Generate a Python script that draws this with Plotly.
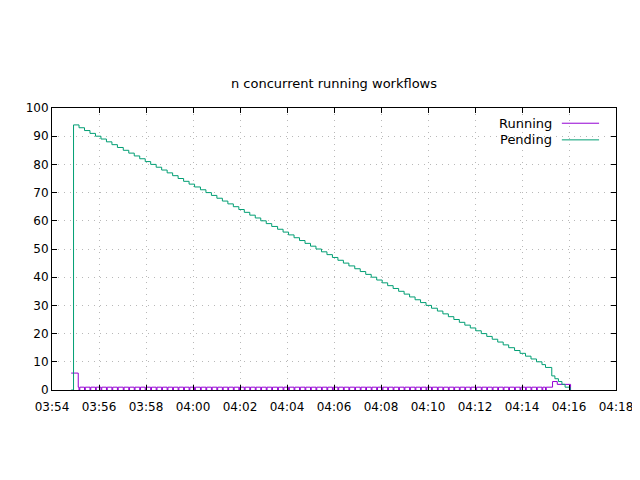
import pandas as pd
import plotly.graph_objects as go

day = "2024-01-01 "

# times when a pending workflow is picked up (pending drops, running blips to 0)
step_times = [
    "03:55:09", "03:55:23", "03:55:37", "03:55:51", "03:56:05", "03:56:19", "03:56:33", "03:56:47",
    "03:57:02", "03:57:16", "03:57:30", "03:57:44", "03:57:58", "03:58:12", "03:58:26", "03:58:40",
    "03:58:54", "03:59:08", "03:59:22", "03:59:36", "03:59:50", "04:00:04", "04:00:19", "04:00:33",
    "04:00:47", "04:01:01", "04:01:15", "04:01:29", "04:01:43", "04:01:57", "04:02:11", "04:02:25",
    "04:02:39", "04:02:53", "04:03:07", "04:03:21", "04:03:36", "04:03:50", "04:04:04", "04:04:18",
    "04:04:32", "04:04:46", "04:05:00", "04:05:14", "04:05:28", "04:05:42", "04:05:56", "04:06:10",
    "04:06:24", "04:06:38", "04:06:53", "04:07:07", "04:07:21", "04:07:35", "04:07:49", "04:08:03",
    "04:08:17", "04:08:31", "04:08:45", "04:08:59", "04:09:13", "04:09:27", "04:09:41", "04:09:55",
    "04:10:09", "04:10:24", "04:10:38", "04:10:52", "04:11:06", "04:11:20", "04:11:34", "04:11:48",
    "04:12:02", "04:12:16", "04:12:30", "04:12:44", "04:12:58", "04:13:12", "04:13:26", "04:13:41",
    "04:13:55", "04:14:09", "04:14:23", "04:14:37", "04:14:51", "04:15:00",
]
tail_times = ["04:15:16", "04:15:24", "04:15:33", "04:15:42", "04:15:50", "04:16:03"]

pending_times = ["03:54:49", "03:54:55"] + step_times + tail_times
pending_counts = [
    0, 94,
    93, 92, 91, 90, 89, 88, 87, 86, 85, 84, 83, 82, 81, 80, 79, 78,
    77, 76, 75, 74, 73, 72, 71, 70, 69, 68, 67, 66, 65, 64, 63, 62,
    61, 60, 59, 58, 57, 56, 55, 54, 53, 52, 51, 50, 49, 48, 47, 46,
    45, 44, 43, 42, 41, 40, 39, 38, 37, 36, 35, 34, 33, 32, 31, 30,
    29, 28, 27, 26, 25, 24, 23, 22, 21, 20, 19, 18, 17, 16, 15, 14,
    13, 12, 11, 10, 9, 8,
    5, 4, 3, 2, 1, 0,
]

running_times = ["03:54:49", "03:55:07", "04:15:18", "04:15:30", "04:16:04"]
running_counts = [6, 1, 3, 2, 0]

# running series: level changes plus the short blips to zero between workflows
blip = pd.Timedelta(seconds=2)
events = [(pd.Timestamp(day + t), c) for t, c in zip(running_times, running_counts)]
for t in step_times:
    ts = pd.Timestamp(day + t)
    events += [(ts, 0), (ts + blip, 1)]
events.sort(key=lambda e: e[0])
run_x = [e[0] for e in events]
run_y = [e[1] for e in events]

fig = go.Figure()
fig.add_trace(go.Scatter(x=run_x, y=run_y, mode="lines", line_shape="hv",
                         line=dict(color="#9400d3", width=1, simplify=False), name="Running"))
fig.add_trace(go.Scatter(x=[day + t for t in pending_times], y=pending_counts, mode="lines",
                         line_shape="hv", line=dict(color="#009e73", width=1, simplify=False),
                         name="Pending"))

font = dict(family="DejaVu Sans", size=12, color="black")
axis = dict(showline=True, linecolor="black", linewidth=1, mirror="ticks", ticks="inside",
            ticklen=5, tickcolor="black", showgrid=True, gridcolor="#b8b8b8", griddash="1px,5px",
            gridwidth=1, zeroline=False, tickfont=font)

# the page body has an 8px margin, so the figure is 632x472 and shifted
fig.update_layout(
    width=632, height=472,
    margin=dict(l=44, r=24, t=100, b=90),
    paper_bgcolor="white", plot_bgcolor="white",
    showlegend=False,
    title=dict(text="n concurrent running workflows", x=326 / 632, xanchor="center",
               y=1 - 75 / 472, yanchor="middle", font=dict(family="DejaVu Sans", size=13, color="black")),
    xaxis=dict(axis, type="date", range=[day + "03:54", day + "04:18"], dtick=120000,
               tickformat="%H:%M", automargin=False, ticklabelstandoff=6),
    yaxis=dict(axis, range=[0, 100], dtick=10, automargin=False),
)

# gnuplot style key: label on the left, line sample on the right
key = [("Running", "#9400d3", 0.946), ("Pending", "#009e73", 0.887)]
for label, color, ky in key:
    fig.add_annotation(x=0.890, y=ky, xref="paper", yref="paper", text=label, showarrow=False,
                       xanchor="right", yanchor="middle", font=dict(family="DejaVu Sans", size=13, color="black"))
    fig.add_shape(type="line", xref="paper", yref="paper", x0=0.904, x1=0.970, y0=ky, y1=ky,
                  line=dict(color=color, width=1))

fig.write_html("out.html")
